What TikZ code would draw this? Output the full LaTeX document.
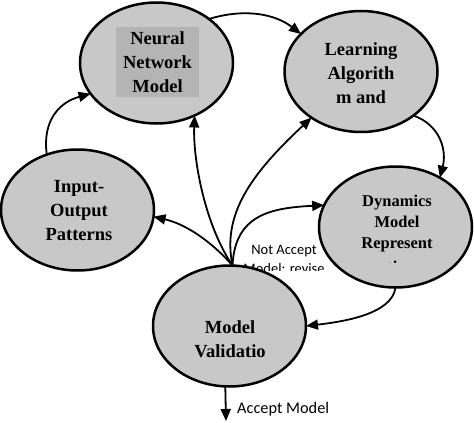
\documentclass[tikz,border=0pt]{standalone}
\usepackage{fontspec}
\setmainfont{Liberation Serif}
\newfontfamily\calib{Carlito}
\usetikzlibrary{arrows.meta,shapes.geometric}
\definecolor{ellfill}{HTML}{C8C8C8}
\definecolor{txtbg}{HTML}{B4B4B4}
\begin{document}
\begin{tikzpicture}[x=1pt,y=-1pt,
  ell/.style={ellipse,draw=black,line width=2.5pt,fill=ellfill,minimum width=153pt,minimum height=121pt,inner sep=0pt,outer sep=0pt},
  etext/.style={align=center,font=\bfseries\fontsize{18.5}{24}\selectfont,inner sep=0pt},
  dtext/.style={align=center,font=\bfseries\fontsize{16.5}{21}\selectfont,inner sep=0pt},
  lbl/.style={font=\calib\fontsize{14.5}{19}\selectfont,inner sep=0pt,anchor=base},
  acclbl/.style={font=\calib\fontsize{16.3}{19}\selectfont,inner sep=0pt},
  conn/.style={line width=1.8pt,-{Triangle[length=12pt,width=10pt]}},
]
\useasboundingbox (0,0) rectangle (474,423);
% clipped label under the ellipses
\begin{scope}
  \clip (200,230) rectangle (340,270);
  \node[lbl] (notacc) at (284,254.3) {Not Accept};
  \node[lbl] (revise) at (284,273.5) {Model: revise};
\end{scope}
% ellipses
\node[ell] (nn) at (156.5,63) {};
\node[ell] (ln) at (361,71.5) {};
\node[ell] (io) at (77.5,210) {};
\node[ell] (dy) at (395.5,227) {};
\node[ell] (mv) at (229.5,326) {};
% texts
\node[etext,fill=txtbg,minimum width=83pt,minimum height=70pt] (nnt) at (157.5,62) {Neural\\Network\\Model};
\node[etext] (lnt) at (361,73.5) {Learning\\Algorith\\m and};
\node[etext] (iot) at (79,211) {Input-\\Output\\Patterns};
\node[dtext] (dyt) at (397,224) {Dynamics\\Model\\Represent};
\begin{scope}
  \clip (360,255) rectangle (430,262.5);
  \node[dtext,anchor=base] (dyt2) at (397,272) {ation};
\end{scope}
\node[etext] (mvt) at (230,339) {Model\\Validatio};
% connectors
\coordinate (fan) at ([xshift=3pt]mv.north);
\coordinate (acc) at (226,421);
\draw[conn] (nn.40) .. controls (245,8) and (275,14) .. (ln.148);
\draw[conn] (ln.320) .. controls (440,125) and (447,150) .. (dy.48);
\draw[conn] (dy.270) .. controls (392,315) and (340,322) .. (mv.0);
\draw[conn] (io.119) .. controls (42,120) and (60,102) .. (nn.205);
\draw[conn] (fan) .. controls (210,240) and (185,224) .. (io.355);
\draw[conn] (fan) .. controls (205,225) and (193,160) .. (nn.306);
\draw[conn] (fan) .. controls (222,215) and (250,175) .. (ln.223);
\draw[conn] (fan) .. controls (235,215) and (270,208) .. (dy.163);
\draw[conn] (mv.266) -- (acc);
\node[acclbl,anchor=west] (acct) at (237,409) {Accept Model};
\end{tikzpicture}
\end{document}
